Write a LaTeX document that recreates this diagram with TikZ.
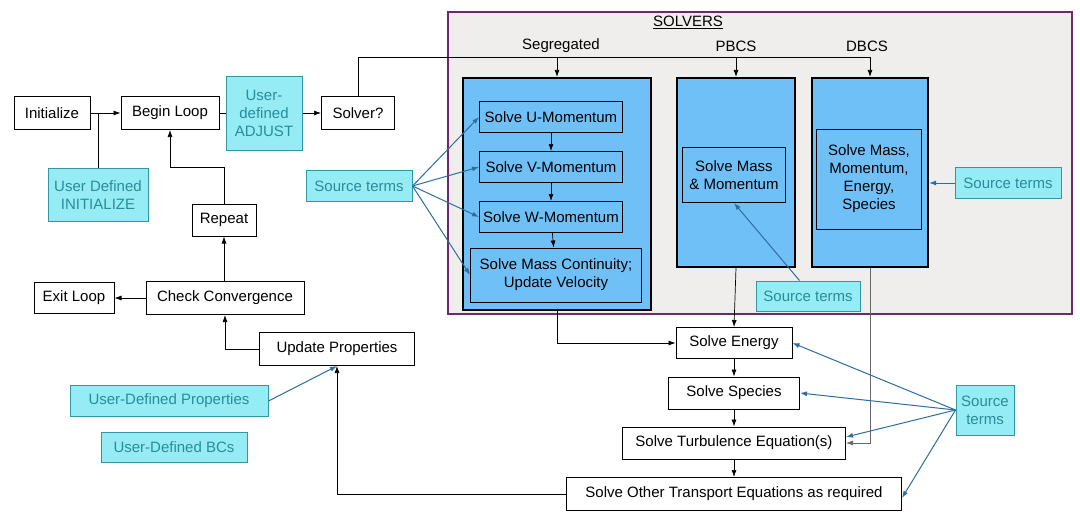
\documentclass[tikz,border=0pt]{standalone}
\usepackage{fontspec}
\setmainfont{Liberation Sans}
\usetikzlibrary{arrows.meta,patterns}
\definecolor{cyanf}{RGB}{150,236,244}
\definecolor{cyand}{RGB}{50,150,165}
\definecolor{cyant}{RGB}{40,140,155}
\definecolor{bluef}{RGB}{112,192,248}
\definecolor{arrb}{RGB}{45,110,160}
\definecolor{purp}{RGB}{110,40,110}
\definecolor{grayb}{RGB}{240,238,236}
\begin{document}
\begin{tikzpicture}[x=1pt,y=-1pt,
  every node/.style={font=\fontsize{15}{18}\selectfont},
  box/.style={draw=black,fill=white,line width=1pt,inner sep=0pt,align=center},
  ubox/.style={draw=cyand,fill=cyanf,line width=1pt,inner sep=0pt,align=center,text=cyant},
  sbox/.style={draw=black,fill=bluef,line width=1pt,inner sep=0pt,align=center},
  big/.style={draw=black,fill=bluef,line width=2.2pt,inner sep=0pt},
  ar/.style={-{Latex[length=7pt,width=5pt]},line width=0.7pt},
  ln/.style={line width=0.7pt},
  ba/.style={-{Latex[length=7pt,width=5pt]},line width=1pt,draw=arrb}]
\useasboundingbox (0,0) rectangle (1080,512);
\fill[white] (0,0) rectangle (1080,512);
% solvers frame
\node[draw=purp,fill=grayb,line width=1.5pt,minimum width=624pt,minimum height=302pt,inner sep=0pt] (solv) at (760,163) {};
\node (solt) at (688,22) {\underline{SOLVERS}};
\node (seg) at (561,46) {Segregated};
\node (pb) at (736,46) {PBCS};
\node (db) at (867,46) {DBCS};
\node[big,minimum width=188pt,minimum height=232pt] (segb) at (557,194) {};
\node[big,minimum width=118pt,minimum height=189pt] (pbb) at (736,172.5) {};
\node[big,minimum width=116pt,minimum height=189pt] (dbb) at (870,172.5) {};
\node[sbox,minimum width=143pt,minimum height=31pt] (su) at (551,117) {Solve U-Momentum};
\node[sbox,minimum width=143pt,minimum height=31pt] (sv) at (551,167) {Solve V-Momentum};
\node[sbox,minimum width=143pt,minimum height=31pt] (sw) at (551,217) {Solve W-Momentum};
\node[sbox,minimum width=171pt,minimum height=54pt] (sm) at (556,275) {Solve Mass Continuity;\\Update Velocity};
\node[sbox,minimum width=103pt,minimum height=55pt] (smm) at (734,175) {Solve Mass\\\& Momentum};
\node[sbox,minimum width=105pt,minimum height=100pt] (sall) at (869,179) {Solve Mass,\\Momentum,\\Energy,\\Species};
\node[ubox,minimum width=104pt,minimum height=30pt] (st2) at (808,296) {Source terms};
% left nodes
\node[box,minimum width=76pt,minimum height=33pt] (init) at (52,113) {Initialize};
\node[box,minimum width=98pt,minimum height=33pt] (bl) at (170,113) {Begin Loop};
\node[ubox,minimum width=76pt,minimum height=74pt] (adj) at (264,113) {User-\\defined\\ADJUST};
\node[box,minimum width=73pt,minimum height=33pt] (solq) at (358,113) {Solver?};
\node[ubox,minimum width=100pt,minimum height=53pt] (udi) at (98,195) {User Defined\\INITIALIZE};
\node[box,minimum width=64pt,minimum height=32pt] (rep) at (224,220) {Repeat};
\node[box,minimum width=80pt,minimum height=31pt] (exit) at (74,298) {Exit Loop};
\node[box,minimum width=158pt,minimum height=33pt] (cc) at (225,298) {Check Convergence};
\node[box,minimum width=155pt,minimum height=33pt] (up) at (337,349) {Update Properties};
\node[ubox,minimum width=198pt,minimum height=31pt] (udp) at (169,401) {User-Defined Properties};
\node[ubox,minimum width=146pt,minimum height=30pt] (udb) at (174,447) {User-Defined BCs};
\node[ubox,minimum width=106pt,minimum height=31pt] (st1) at (359,186) {Source terms};
\node[ubox,minimum width=106pt,minimum height=31pt] (st3) at (1008,183) {Source terms};
\node[ubox,minimum width=58pt,minimum height=50pt] (st4) at (985,410) {Source\\terms};
% bottom chain
\node[box,minimum width=116pt,minimum height=31pt] (en) at (734,343) {Solve Energy};
\node[box,minimum width=131pt,minimum height=32pt] (sp) at (734,393) {Solve Species};
\node[box,minimum width=223pt,minimum height=32pt] (tu) at (734,443) {Solve Turbulence Equation(s)};
\node[box,minimum width=335pt,minimum height=33pt] (ot) at (734,494) {Solve Other Transport Equations as required};
% black connectors
\draw[ar] (init) -- (bl);
\draw[ln] (udi.north) -- (udi.north|-init.east);
\draw[ln] (bl) -- (adj);
\draw[ar] (adj) -- (solq);
\draw[ar] (rep.north) |- (170,167) -- (bl.south);
\draw[ar] (cc.north-|rep) -- (rep.south);
\draw[ar] (cc) -- (exit);
\draw[ar] (up.west) -| (cc.south);
\coordinate (tl) at (358,57);
\draw[ln] (solq.north) -- (tl) -- (870,57);
\draw[ar] (segb.north|-tl) -- (segb.north);
\draw[ar] (pbb.north|-tl) -- (pbb.north);
\draw[ar] (dbb.north|-tl) -- (dbb.north);
\draw[ar] (su) -- (sv);
\draw[ar] (sv) -- (sw);
\draw[ar] (sw) -- (sm);
\draw[ar] (segb.south) |- (en.west);
\draw[ar] (pbb.south) -- (en.north);
\draw[ar,draw=black!60] (dbb.south) |- (tu.east);
\draw[ar] (en) -- (sp);
\draw[ar] (sp) -- (tu);
\draw[ar] (tu) -- (ot);
\draw[ar] (ot.west) -| (up.south);
% blue connectors
\draw[ba] (udp.east) -- (up.south);
\draw[ba] (st1.east) -- (su.west);
\draw[ba] (st1.east) -- (sv.west);
\draw[ba] (st1.east) -- (sw.west);
\draw[ba] (st1.east) -- (sm.west);
\draw[ba] (st2.north west) ++(44,0) -- (smm.south);
\draw[ba] (st3.west) -- (dbb.east|-st3.west);
\draw[ba] (st4.west) -- (en.east);
\draw[ba] (st4.west) -- (sp.east);
\draw[ba] (st4.west) -- ([yshift=6pt]tu.east);
\draw[ba] (st4.west) -- ([yshift=-4pt]ot.east);
\end{tikzpicture}
\end{document}
